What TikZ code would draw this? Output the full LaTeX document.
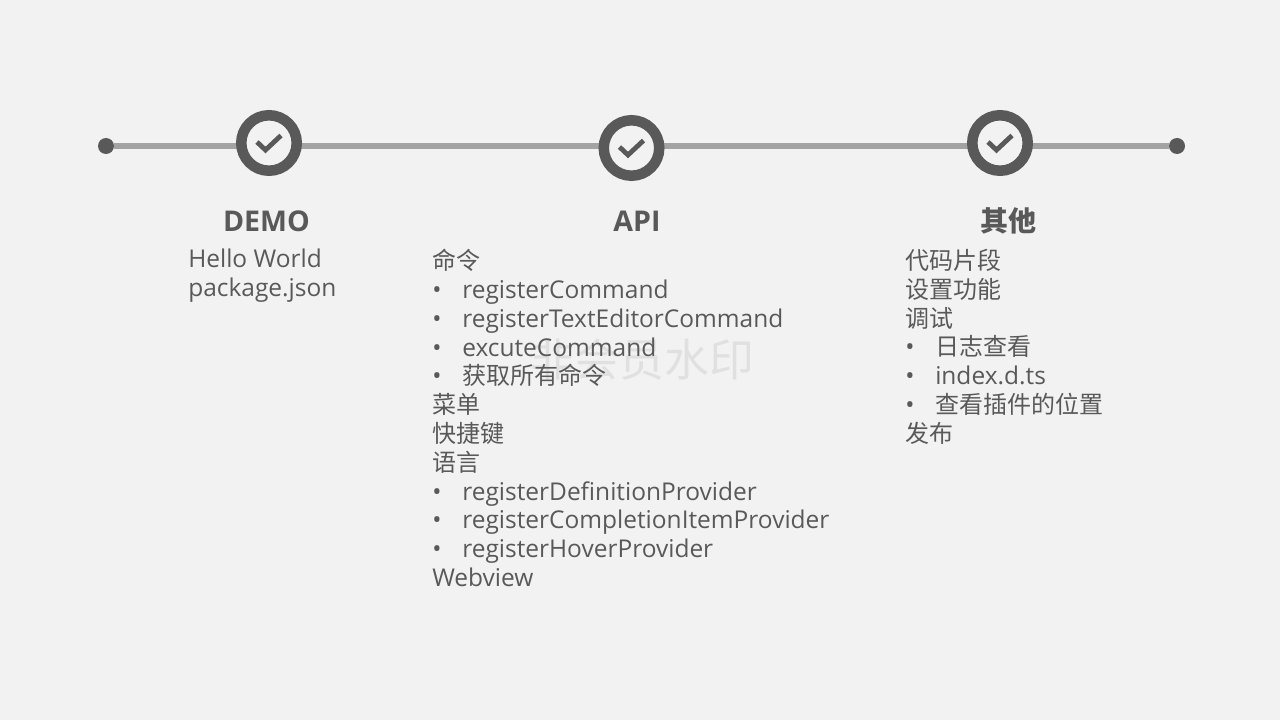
\documentclass[tikz,border=0pt]{standalone}
\usepackage{fontspec}
\setmainfont[Scale=1.02]{Open Sans}
\newfontfamily\cjk{Noto Sans CJK SC}
\usetikzlibrary{positioning}
\definecolor{pagebg}{HTML}{F2F2F2}
\definecolor{inkgray}{HTML}{595959}
\definecolor{linegray}{HTML}{A3A3A3}
\definecolor{markgray}{HTML}{E0E0E0}
\newcommand{\itm}{\makebox[22.5pt][l]{•}}
\setlength{\lineskiplimit}{-20pt}
\tikzset{
  tline/.style={draw=linegray,line width=4pt},
  enddot/.style={circle,fill=inkgray,minimum size=12pt,inner sep=0pt},
  stepring/.style={circle,draw=inkgray,line width=7.9pt,fill=pagebg,minimum size=41.6pt,inner sep=0pt},
  tick/.style={draw=inkgray,line width=3.6pt,miter limit=10},
  heading/.style={text=inkgray,font=\fontsize{21}{25}\bfseries,inner sep=0pt},
  body/.style={text=inkgray,font=\fontsize{18}{21.6}\selectfont,align=left,inner sep=0pt,anchor=north west}
}
\begin{document}
\begin{tikzpicture}[x=0.75pt,y=-0.75pt]
        \fill[pagebg] (0,0) rectangle (1280,720);
        \useasboundingbox (0,0) rectangle (1280,720);
        
        \node[enddot] (dotleft) at (106,146) {};
        \node[enddot] (dotright) at (1177,146) {};
        \path[tline] (dotleft) -- (dotright);
        
        \node[stepring] (stepdemo) at (269,143) {};
        \node[stepring] (stepapi) at (631.5,148) {};
        \node[stepring] (stepother) at (1000,143) {};
        
        \foreach \s in {stepdemo,stepapi,stepother}
          \draw[tick] (\s) ++(-12,-1) -- ++(8.5,8) -- ++(15.5,-14.5);
        
        \node[heading] (headdemo) at (266.5,221) {DEMO};
        \node[heading] (headapi) at (637,221) {API};
        \node[heading] (headother) at (1008,221) {\cjk\bfseries 其他};
        
        \node[text=markgray,font=\fontsize{33.6}{40}\cjk] (mark) at (642,360) {非会员水印};
        
        \node[body] (listdemo) at (188,249) {Hello World\\package.json};
        \node[body] (listapi) at (432,249) {{\cjk 命令}\\
          \itm registerCommand\\
          \itm registerTextEditorCommand\\
          \itm excuteCommand\\
          \itm {\cjk 获取所有命令}\\
          {\cjk 菜单}\\
          {\cjk 快捷键}\\
          {\cjk 语言}\\
          \itm registerDefinitionProvider\\
          \itm registerCompletionItemProvider\\
          \itm registerHoverProvider\\
          Webview};
        \node[body] (listother) at (905,249) {{\cjk 代码片段}\\
          {\cjk 设置功能}\\
          {\cjk 调试}\\
          \itm {\cjk 日志查看}\\
          \itm index.d.ts\\
          \itm {\cjk 查看插件的位置}\\
          {\cjk 发布}};
\end{tikzpicture}
\end{document}
